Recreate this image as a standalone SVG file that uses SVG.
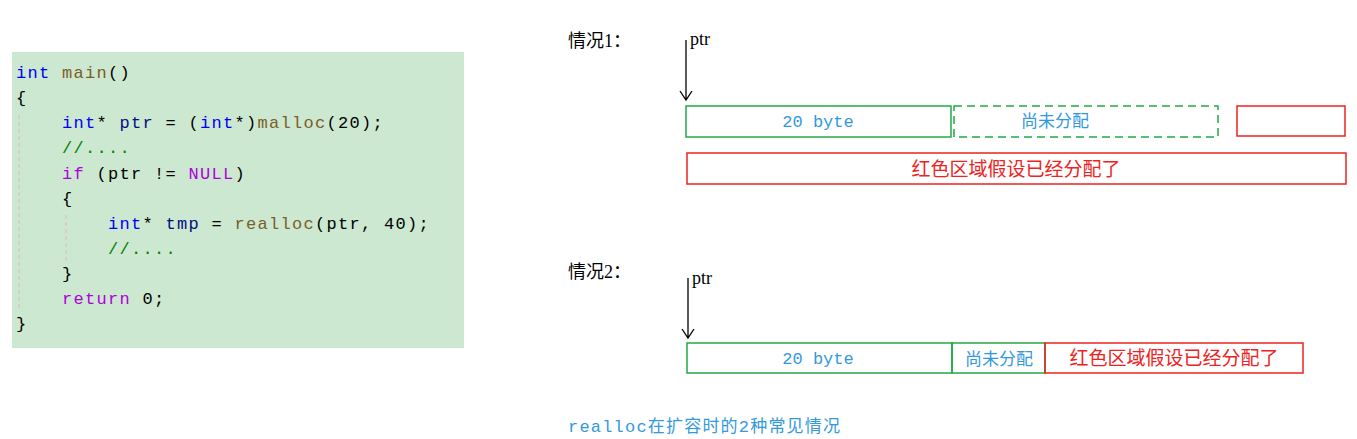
<svg xmlns="http://www.w3.org/2000/svg" width="1357" height="439" viewBox="0 0 1357 439">
<style>
.c{font-family:"Liberation Mono",monospace;font-size:17px;letter-spacing:1.3px;fill:#000}
.k{fill:#0000ff}.f{fill:#795e26}.m{fill:#af00db}.cm{fill:#008000}.v{fill:#001080}
.lbl{font-family:"Liberation Serif","Noto Sans CJK SC",serif;font-size:18px;fill:#000}
.bl{font-family:"Liberation Mono","Noto Sans CJK SC",monospace;font-size:17px;fill:#3399dd}
.rd{font-family:"Liberation Serif","Noto Sans CJK SC",serif;font-size:19px;fill:#ee2222}
.g{fill:none;stroke:#22aa44;stroke-width:1.5}
.r{fill:none;stroke:#ee2222;stroke-width:1.5}
.a{stroke:#000;stroke-width:1.3;fill:none}
</style>
<rect width="1357" height="439" fill="#fff"/>
<g id="code">
<rect x="12" y="52" width="452" height="296" fill="#cde8d0"/>
<line x1="19" y1="115" x2="19" y2="310" stroke="#e0b8b8" stroke-dasharray="4,3"/>
<line x1="66" y1="215" x2="66" y2="262" stroke="#e0b8b8" stroke-dasharray="4,3"/>
<text class="c" x="16" y="78"><tspan class="k">int</tspan> <tspan class="f">main</tspan>()</text>
<text class="c" x="16" y="103">{</text>
<text class="c" x="62" y="128"><tspan class="k">int</tspan>* <tspan class="v">ptr</tspan> = (<tspan class="k">int</tspan>*)<tspan class="f">malloc</tspan>(20);</text>
<text class="c cm" x="62" y="153">//....</text>
<text class="c" x="62" y="179"><tspan class="m">if</tspan> (ptr != <tspan class="m">NULL</tspan>)</text>
<text class="c" x="62" y="204">{</text>
<text class="c" x="108" y="229"><tspan class="k">int</tspan>* <tspan class="v">tmp</tspan> = <tspan class="f">realloc</tspan>(ptr, 40);</text>
<text class="c cm" x="108" y="254">//....</text>
<text class="c" x="62" y="279">}</text>
<text class="c" x="62" y="304"><tspan class="m">return</tspan> 0;</text>
<text class="c" x="16" y="329">}</text>
</g>
<g id="case1">
<text class="lbl" x="568" y="47">情况1：</text>
<text class="lbl" x="690" y="45">ptr</text>
<rect class="g" x="686" y="106" width="265" height="31"/>
<text class="bl" x="818" y="127" text-anchor="middle">20 byte</text>
<rect class="g" x="954" y="106" width="264" height="31" stroke-dasharray="8,5"/>
<text class="bl" x="1055" y="127" text-anchor="middle">尚未分配</text>
<rect class="r" x="1237" y="106" width="108" height="30"/>
<rect class="r" x="687" y="153" width="659" height="31"/>
<text class="rd" x="1016" y="176" text-anchor="middle">红色区域假设已经分配了</text>
</g>
<g id="case2">
<text class="lbl" x="568" y="278">情况2：</text>
<text class="lbl" x="692" y="284">ptr</text>
<rect class="g" x="687" y="343" width="265" height="30"/>
<text class="bl" x="818" y="364" text-anchor="middle">20 byte</text>
<rect class="g" x="952" y="343" width="93" height="30"/>
<text class="bl" x="999" y="365" text-anchor="middle" font-size="16">尚未分配</text>
<rect class="r" x="1045" y="343" width="258" height="30"/>
<text class="rd" x="1174" y="365" text-anchor="middle" font-size="18">红色区域假设已经分配了</text>
</g>
<g id="connectors">
<path class="a" d="M686 40V100M680 91L686 100L692 91"/>
<path class="a" d="M688 278V338M682 329L688 338L694 329"/>
</g>
<text class="bl" x="568" y="432" letter-spacing="1.2">realloc在扩容时的2种常见情况</text>
</svg>
